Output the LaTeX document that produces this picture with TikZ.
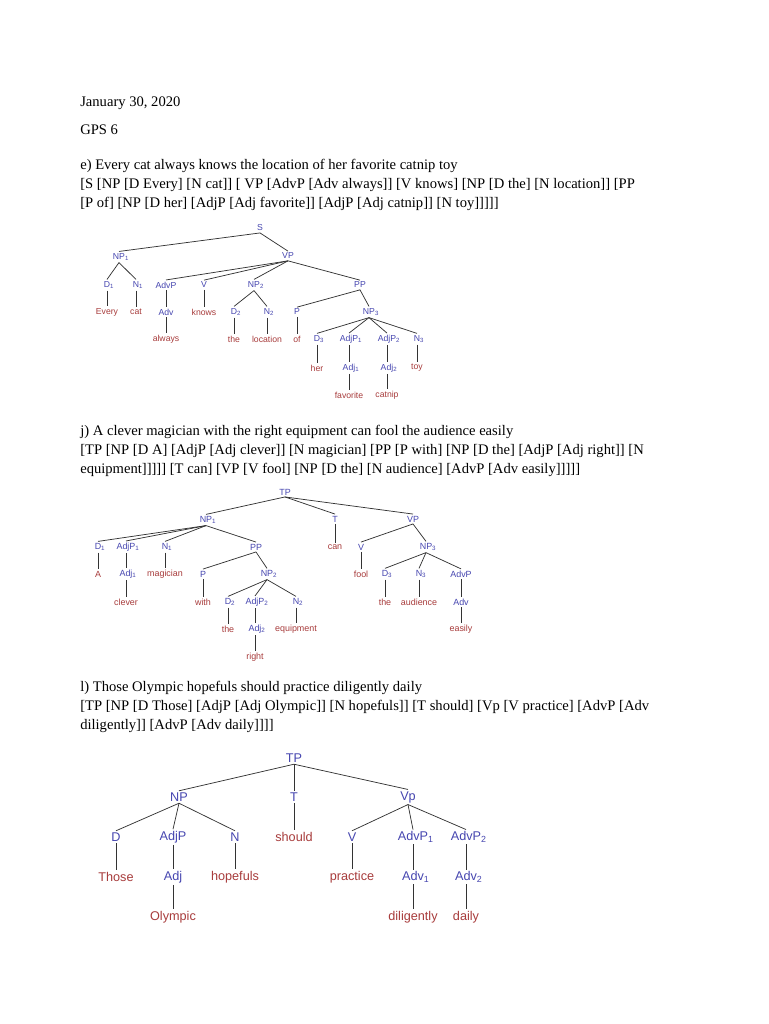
\documentclass[tikz,border=0pt]{standalone}
\usepackage{fontspec}
\setmainfont{Liberation Serif}
\setsansfont{Liberation Sans}
\usepackage{xcolor}
\usepackage{tikz}
\usetikzlibrary{positioning}
\definecolor{tCat}{HTML}{4646B0}
\definecolor{tWord}{HTML}{A83C3C}
\definecolor{tLine}{HTML}{333333}
\newcommand{\sub}[1]{\rlap{\textsubscript{#1}}}

\begin{document}
\begin{tikzpicture}[x=0.75pt, y=-0.75pt,
      body/.style={anchor=base west, inner sep=0pt, font=\fontsize{10.95}{14.25}\selectfont},
      cat/.style={text=tCat, inner sep=1.2pt},
      word/.style={text=tWord, inner sep=1.2pt},
      branch/.style={draw=tLine, line width=0.55pt},
      small/.style={font=\sffamily\fontsize{6.5}{7}\selectfont},
      mid/.style={font=\sffamily\fontsize{6.7}{7}\selectfont},
      big/.style={font=\sffamily\fontsize{9.5}{10}\selectfont}]
      \useasboundingbox[fill=white] (0,0) rectangle (768,1024);
      % heading
      \node[body] (date) at (80,106) {January 30, 2020};
      \node[body] (gps) at (80,134) {GPS 6};
      % sentence e
      \node[body] (eText) at (80,169) {e) Every cat always knows the location of her favorite catnip toy};
      \node[body] (eBrA) at (80,188) {[S [NP [D Every] [N cat]] [ VP [AdvP [Adv always]] [V knows] [NP [D the] [N location]] [PP};
      \node[body] (eBrB) at (80,207) {[P of] [NP [D her] [AdjP [Adj favorite]] [AdjP [Adj catnip]] [N toy]]]]]};
      \begin{scope}[small]
        \node[cat] (eS) at (260,228) {S};
        \node[cat] (eNP1) at (119,257) {NP\sub{1}};
        \node[cat] (eVP) at (288,256) {VP};
        \node[cat] (eD1) at (107,285) {D\sub{1}};
        \node[cat] (eN1) at (136,285) {N\sub{1}};
        \node[cat] (eAdvP) at (166,285) {AdvP};
        \node[cat] (eV) at (204,285) {V};
        \node[cat] (eNP2) at (254,285) {NP\sub{2}};
        \node[cat] (ePP) at (360,285) {PP};
        \node[word] (eEvery) at (107,312) {Every};
        \node[word] (eCat) at (136,312) {cat};
        \node[cat] (eAdv) at (166,312) {Adv};
        \node[word] (eKnows) at (204,312) {knows};
        \node[cat] (eD2) at (234,312) {D\sub{2}};
        \node[cat] (eN2) at (267,312) {N\sub{2}};
        \node[cat] (eP) at (297,312) {P};
        \node[cat] (eNP3) at (369,312) {NP\sub{3}};
        \node[word] (eAlways) at (166,339) {always};
        \node[word] (eThe) at (234,339) {the};
        \node[word] (eLocation) at (267,339) {location};
        \node[word] (eOf) at (297,339) {of};
        \node[cat] (eD3) at (317,339) {D\sub{3}};
        \node[cat] (eAdjP1) at (349,339) {AdjP\sub{1}};
        \node[cat] (eAdjP2) at (387,339) {AdjP\sub{2}};
        \node[cat] (eN3) at (417,339) {N\sub{3}};
        \node[word] (eHer) at (317,368) {her};
        \node[cat] (eAdj1) at (349,368) {Adj\sub{1}};
        \node[cat] (eAdj2) at (387,368) {Adj\sub{2}};
        \node[word] (eToy) at (417,368) {toy};
        \node[word] (eFavorite) at (349,395) {favorite};
        \node[word] (eCatnip) at (387,395) {catnip};
      \end{scope}
      \foreach \a/\b in {eS/eNP1, eS/eVP, eNP1/eD1, eNP1/eN1, eD1/eEvery, eN1/eCat,
          eVP/eAdvP, eVP/eV, eVP/eNP2, eVP/ePP, eAdvP/eAdv, eAdv/eAlways, eV/eKnows,
          eNP2/eD2, eNP2/eN2, eD2/eThe, eN2/eLocation, ePP/eP, ePP/eNP3, eP/eOf,
          eNP3/eD3, eNP3/eAdjP1, eNP3/eAdjP2, eNP3/eN3, eD3/eHer, eAdjP1/eAdj1,
          eAdj1/eFavorite, eAdjP2/eAdj2, eAdj2/eCatnip, eN3/eToy}
        \draw[branch] (\a.south) -- (\b.north);
      % sentence j
      \node[body] (jText) at (80,435) {j) A clever magician with the right equipment can fool the audience easily};
      \node[body] (jBrA) at (80,454) {[TP [NP [D A] [AdjP [Adj clever]] [N magician] [PP [P with] [NP [D the] [AdjP [Adj right]] [N};
      \node[body] (jBrB) at (80,473) {equipment]]]]] [T can] [VP [V fool] [NP [D the] [N audience] [AdvP [Adv easily]]]]]};
      \begin{scope}[mid]
        \node[cat] (jTP) at (285,492) {TP};
        \node[cat] (jNP1) at (206,520) {NP\sub{1}};
        \node[cat] (jT) at (335,519) {T};
        \node[cat] (jVP) at (413,519) {VP};
        \node[cat] (jD1) at (98,547) {D\sub{1}};
        \node[cat] (jAdjP1) at (126,547) {AdjP\sub{1}};
        \node[cat] (jN1) at (165,547) {N\sub{1}};
        \node[cat] (jPP) at (256,547) {PP};
        \node[word] (jCan) at (335,547) {can};
        \node[cat] (jV) at (361,547) {V};
        \node[cat] (jNP3) at (426,547) {NP\sub{3}};
        \node[word] (jA) at (98,574) {A};
        \node[cat] (jAdj1) at (126,574) {Adj\sub{1}};
        \node[word] (jMagician) at (165,574) {magician};
        \node[cat] (jP) at (203,574) {P};
        \node[cat] (jNP2) at (267,574) {NP\sub{2}};
        \node[word] (jFool) at (361,574) {fool};
        \node[cat] (jD3) at (385,574) {D\sub{3}};
        \node[cat] (jN3) at (419,574) {N\sub{3}};
        \node[cat] (jAdvP) at (461,574) {AdvP};
        \node[word] (jClever) at (126,602) {clever};
        \node[word] (jWith) at (203,602) {with};
        \node[cat] (jD2) at (228,602) {D\sub{2}};
        \node[cat] (jAdjP2) at (255,602) {AdjP\sub{2}};
        \node[cat] (jN2) at (296,602) {N\sub{2}};
        \node[word] (jTheB) at (385,602) {the};
        \node[word] (jAudience) at (419,602) {audience};
        \node[cat] (jAdv) at (461,602) {Adv};
        \node[word] (jTheA) at (228,629) {the};
        \node[cat] (jAdj2) at (255,629) {Adj\sub{2}};
        \node[word] (jEquipment) at (296,629) {equipment};
        \node[word] (jEasily) at (461,629) {easily};
        \node[word] (jRight) at (255,657) {right};
      \end{scope}
      \foreach \a/\b in {jTP/jNP1, jTP/jT, jTP/jVP, jNP1/jD1, jNP1/jAdjP1, jNP1/jN1, jNP1/jPP,
          jD1/jA, jAdjP1/jAdj1, jAdj1/jClever, jN1/jMagician, jPP/jP, jPP/jNP2, jP/jWith,
          jNP2/jD2, jNP2/jAdjP2, jNP2/jN2, jD2/jTheA, jAdjP2/jAdj2, jAdj2/jRight,
          jN2/jEquipment, jT/jCan, jVP/jV, jVP/jNP3, jV/jFool, jNP3/jD3, jNP3/jN3,
          jNP3/jAdvP, jD3/jTheB, jN3/jAudience, jAdvP/jAdv, jAdv/jEasily}
        \draw[branch] (\a.south) -- (\b.north);
      % sentence l
      \node[body] (lText) at (80,691) {l) Those Olympic hopefuls should practice diligently daily};
      \node[body] (lBrA) at (80,710) {[TP [NP [D Those] [AdjP [Adj Olympic]] [N hopefuls]] [T should] [Vp [V practice] [AdvP [Adv};
      \node[body] (lBrB) at (80,729) {diligently]] [AdvP [Adv daily]]]]};
      \begin{scope}[big]
        \node[cat] (lTP) at (294,758) {TP};
        \node[cat] (lNP) at (179,797) {NP};
        \node[cat] (lT) at (294,797) {T};
        \node[cat] (lVp) at (408,797) {Vp};
        \node[cat] (lD) at (116,837) {D};
        \node[cat] (lAdjP) at (173,837) {AdjP};
        \node[cat] (lN) at (235,837) {N};
        \node[word] (lShould) at (294,837) {should};
        \node[cat] (lV) at (352,837) {V};
        \node[cat] (lAdvP1) at (413,837) {AdvP\sub{1}};
        \node[cat] (lAdvP2) at (466,837) {AdvP\sub{2}};
        \node[word] (lThose) at (116,877) {Those};
        \node[cat] (lAdj) at (173,877) {Adj};
        \node[word] (lHopefuls) at (235,877) {hopefuls};
        \node[word] (lPractice) at (352,877) {practice};
        \node[cat] (lAdv1) at (413,877) {Adv\sub{1}};
        \node[cat] (lAdv2) at (466,877) {Adv\sub{2}};
        \node[word] (lOlympic) at (173,917) {Olympic};
        \node[word] (lDiligently) at (413,917) {diligently};
        \node[word] (lDaily) at (466,917) {daily};
      \end{scope}
      \foreach \a/\b in {lTP/lNP, lTP/lT, lTP/lVp, lNP/lD, lNP/lAdjP, lNP/lN, lD/lThose,
          lAdjP/lAdj, lAdj/lOlympic, lN/lHopefuls, lT/lShould, lVp/lV, lVp/lAdvP1,
          lVp/lAdvP2, lV/lPractice, lAdvP1/lAdv1, lAdv1/lDiligently, lAdvP2/lAdv2,
          lAdv2/lDaily}
        \draw[branch] (\a.south) -- (\b.north);
    \end{tikzpicture}
\end{document}
